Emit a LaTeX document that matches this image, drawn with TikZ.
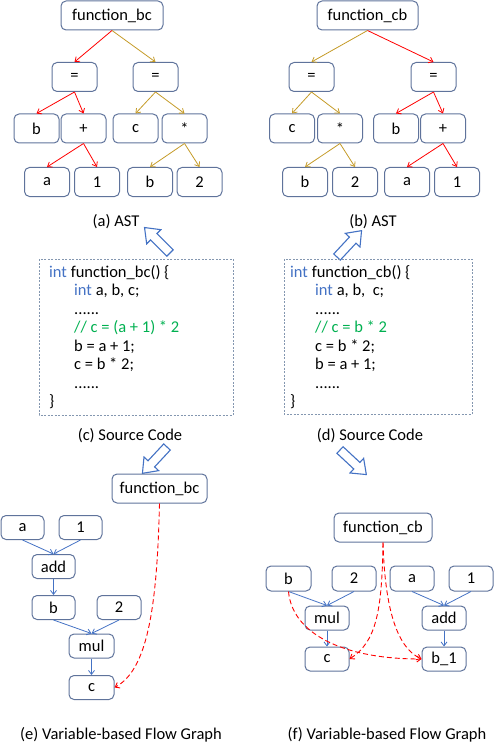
\documentclass[tikz,border=0pt]{standalone}
\usepackage{fontspec}
\setmainfont{Carlito}
\usetikzlibrary{arrows.meta}
\definecolor{nodeborder}{RGB}{95,115,155}
\definecolor{gold}{RGB}{197,155,40}
\definecolor{flowblue}{RGB}{68,114,196}
\definecolor{kwblue}{RGB}{68,114,196}
\definecolor{cmtgreen}{RGB}{0,176,80}
\definecolor{dashbox}{RGB}{132,151,176}
\newcommand\fs{\fontsize{16.5}{18.5}\selectfont}
\newcommand\hollowarrow[3]{%
  \draw[blockarrow, shift={(#1,#2)}, rotate=#3]
    (0,-4.5) -- (23,-4.5) -- (23,-10) -- (36,0) -- (23,10) -- (23,4.5) -- (0,4.5) -- cycle;}
\tikzset{
  box/.style={draw=nodeborder, line width=1pt, rounded corners=5pt, minimum width=45pt, minimum height=29pt, inner sep=0pt, font=\fs},
  sbox/.style={box, minimum width=44pt, minimum height=24pt},
  tipstyle/.style={-{Straight Barb[length=4pt,width=6pt]}},
  redar/.style={draw=red, line width=0.8pt, tipstyle},
  goldar/.style={draw=gold, line width=0.8pt, tipstyle},
  bluear/.style={draw=flowblue, line width=0.8pt, tipstyle},
  dashar/.style={draw=red, line width=0.9pt, dash pattern=on 5pt off 3pt, tipstyle},
  codeline/.style={anchor=base west, inner sep=0pt, font=\fs},
  caption/.style={inner sep=0pt, font=\fs},
  blockarrow/.style={draw=flowblue, line width=1.1pt, fill=white, line join=miter},
  codebox/.style={draw=dashbox, line width=0.8pt, dash pattern=on 2pt off 1.5pt}
}
\begin{document}
\begin{tikzpicture}[x=1pt,y=-1pt]
\useasboundingbox (0,0) rectangle (498,754);

% ---------- (a) AST ----------
\node[box, minimum width=102pt] (fa) at (112,15.5) {function\_bc};
\node[box] (ea1) at (74.5,77) {=};
\node[box] (ea2) at (155.5,77) {=};
\node[box] (ab) at (36.5,128.5) {b};
\node[box] (aplus) at (83.5,128.5) {+};
\node[box] (ac) at (135.5,128.5) {c};
\node[box] (amul) at (184.5,128.5) {*};
\node[box] (aa) at (47,182) {a};
\node[box] (a1) at (97,182) {1};
\node[box] (ab2) at (150,182) {b};
\node[box] (a2) at (199.5,182) {2};
\draw[redar] (fa.south) -- (ea1.north);
\draw[goldar] (fa.south) -- (ea2.north);
\draw[redar] (ea1.south) -- (ab.north);
\draw[redar] (ea1.south) -- (aplus.north);
\draw[redar] (aplus.south) -- (aa.north);
\draw[redar] (aplus.south) -- (a1.north);
\draw[goldar] (ea2.south) -- (ac.north);
\draw[goldar] (ea2.south) -- (amul.north);
\draw[goldar] (amul.south) -- (ab2.north);
\draw[goldar] (amul.south) -- (a2.north);
\node[caption] (capa) at (116,222) {(a) AST};

% ---------- (b) AST ----------
\node[box, minimum width=101pt] (fb) at (367.5,15.5) {function\_cb};
\node[box] (eb1) at (311.5,77) {=};
\node[box] (eb2) at (433.5,77) {=};
\node[box] (bc) at (292,128.5) {c};
\node[box] (bmul) at (340,128.5) {*};
\node[box] (bb) at (396,128.5) {b};
\node[box] (bplus) at (443,128.5) {+};
\node[box] (bb2) at (305,182) {b};
\node[box] (b2) at (355,182) {2};
\node[box] (ba) at (407,182) {a};
\node[box] (b1) at (457,182) {1};
\draw[goldar] (fb.south) -- (eb1.north);
\draw[redar] (fb.south) -- (eb2.north);
\draw[goldar] (eb1.south) -- (bc.north);
\draw[goldar] (eb1.south) -- (bmul.north);
\draw[goldar] (bmul.south) -- (bb2.north);
\draw[goldar] (bmul.south) -- (b2.north);
\draw[redar] (eb2.south) -- (bb.north);
\draw[redar] (eb2.south) -- (bplus.north);
\draw[redar] (bplus.south) -- (ba.north);
\draw[redar] (bplus.south) -- (b1.north);
\node[caption] (capb) at (373,222) {(b) AST};

% ---------- hollow arrows ----------
\hollowarrow{170}{253}{135}
\hollowarrow{337}{257}{47}
\hollowarrow{167}{447}{227}
\hollowarrow{340}{450}{-43}

% ---------- (c) source code ----------
\draw[codebox] (39,259) rectangle (233,415);
\node[codeline] (c1) at (49,277) {{\color{kwblue}int} function\_bc() \{};
\node[codeline] (c2) at (74,295.5) {{\color{kwblue}int} a, b, c;};
\node[codeline] (c3) at (74,314) {......};
\node[codeline] (c4) at (74,332.5) {\color{cmtgreen}// c = (a + 1) * 2};
\node[codeline] (c5) at (74,351) {b = a + 1;};
\node[codeline] (c6) at (74,369.5) {c = b * 2;};
\node[codeline] (c7) at (74,388) {......};
\node[codeline] (c8) at (49,406.5) {\}};
\node[caption] (capc) at (130,436) {(c) Source Code};

% ---------- (d) source code ----------
\draw[codebox] (284,259) rectangle (472,414);
\node[codeline] (d1) at (290,277) {{\color{kwblue}int} function\_cb() \{};
\node[codeline] (d2) at (315,295.5) {{\color{kwblue}int} a, b,\ \ c;};
\node[codeline] (d3) at (315,314) {......};
\node[codeline] (d4) at (315,332.5) {\color{cmtgreen}// c = b * 2};
\node[codeline] (d5) at (315,351) {c = b * 2;};
\node[codeline] (d6) at (315,369.5) {b = a + 1;};
\node[codeline] (d7) at (315,388) {......};
\node[codeline] (d8) at (290,406.5) {\}};
\node[caption] (capd) at (370,436) {(d) Source Code};

% ---------- (e) flow graph ----------
\node[box, minimum width=95pt] (fe) at (159.5,488.5) {function\_bc};
\node[sbox, minimum width=43pt] (ea) at (22.5,527.5) {a};
\node[sbox, minimum width=43pt] (e1) at (80.5,527.5) {1};
\node[sbox, minimum width=43pt] (eadd) at (53.5,566.5) {add};
\node[sbox, minimum width=43pt] (eb) at (53.5,607.5) {b};
\node[sbox] (e2) at (119,607.5) {2};
\node[sbox, minimum width=45pt] (emul) at (91.5,646) {mul};
\node[sbox, minimum width=45pt] (ec) at (91.5,687.5) {c};
\draw[bluear] (ea.south) -- (eadd.north);
\draw[bluear] (e1.south) -- (eadd.north);
\draw[bluear] (eadd.south) -- (eb.north);
\draw[bluear] (eb.south) -- (emul.north);
\draw[bluear] (e2.south) -- (emul.north);
\draw[bluear] (emul.south) -- (ec.north);
\draw[dashar] (fe.south) .. controls (157,610) and (147,670) .. (ec.east);
\node[caption] (cape) at (121,735) {(e) Variable-based Flow Graph};

% ---------- (f) flow graph ----------
\node[box, minimum width=98pt] (ff) at (383,527.5) {function\_cb};
\node[sbox, minimum width=45pt, minimum height=25pt] (fb0) at (288.5,578.5) {b};
\node[sbox, minimum height=25pt] (f2) at (354,578.5) {2};
\node[sbox, minimum height=25pt] (fa0) at (412,578.5) {a};
\node[sbox, minimum height=25pt] (f1) at (471,578.5) {1};
\node[sbox] (fmul) at (327,618) {mul};
\node[sbox] (fadd) at (444,618) {add};
\node[sbox] (fc) at (327,659) {c};
\node[sbox] (fb1) at (444,659) {b\_1};
\draw[bluear] (fb0.south) -- (fmul.north);
\draw[bluear] (f2.south) -- (fmul.north);
\draw[bluear] (fa0.south) -- (fadd.north);
\draw[bluear] (f1.south) -- (fadd.north);
\draw[bluear] (fmul.south) -- (fc.north);
\draw[bluear] (fadd.south) -- (fb1.north);
\draw[dashar] (ff.south) .. controls (382,612) and (376,642) .. (fc.east);
\draw[dashar] (ff.south) .. controls (385,612) and (398,648) .. (fb1.west);
\draw[dashar] (fb0.south) .. controls (292,632) and (340,659) .. (fb1.west);
\node[caption] (capf) at (387,735) {(f) Variable-based Flow Graph};
\end{tikzpicture}
\end{document}
